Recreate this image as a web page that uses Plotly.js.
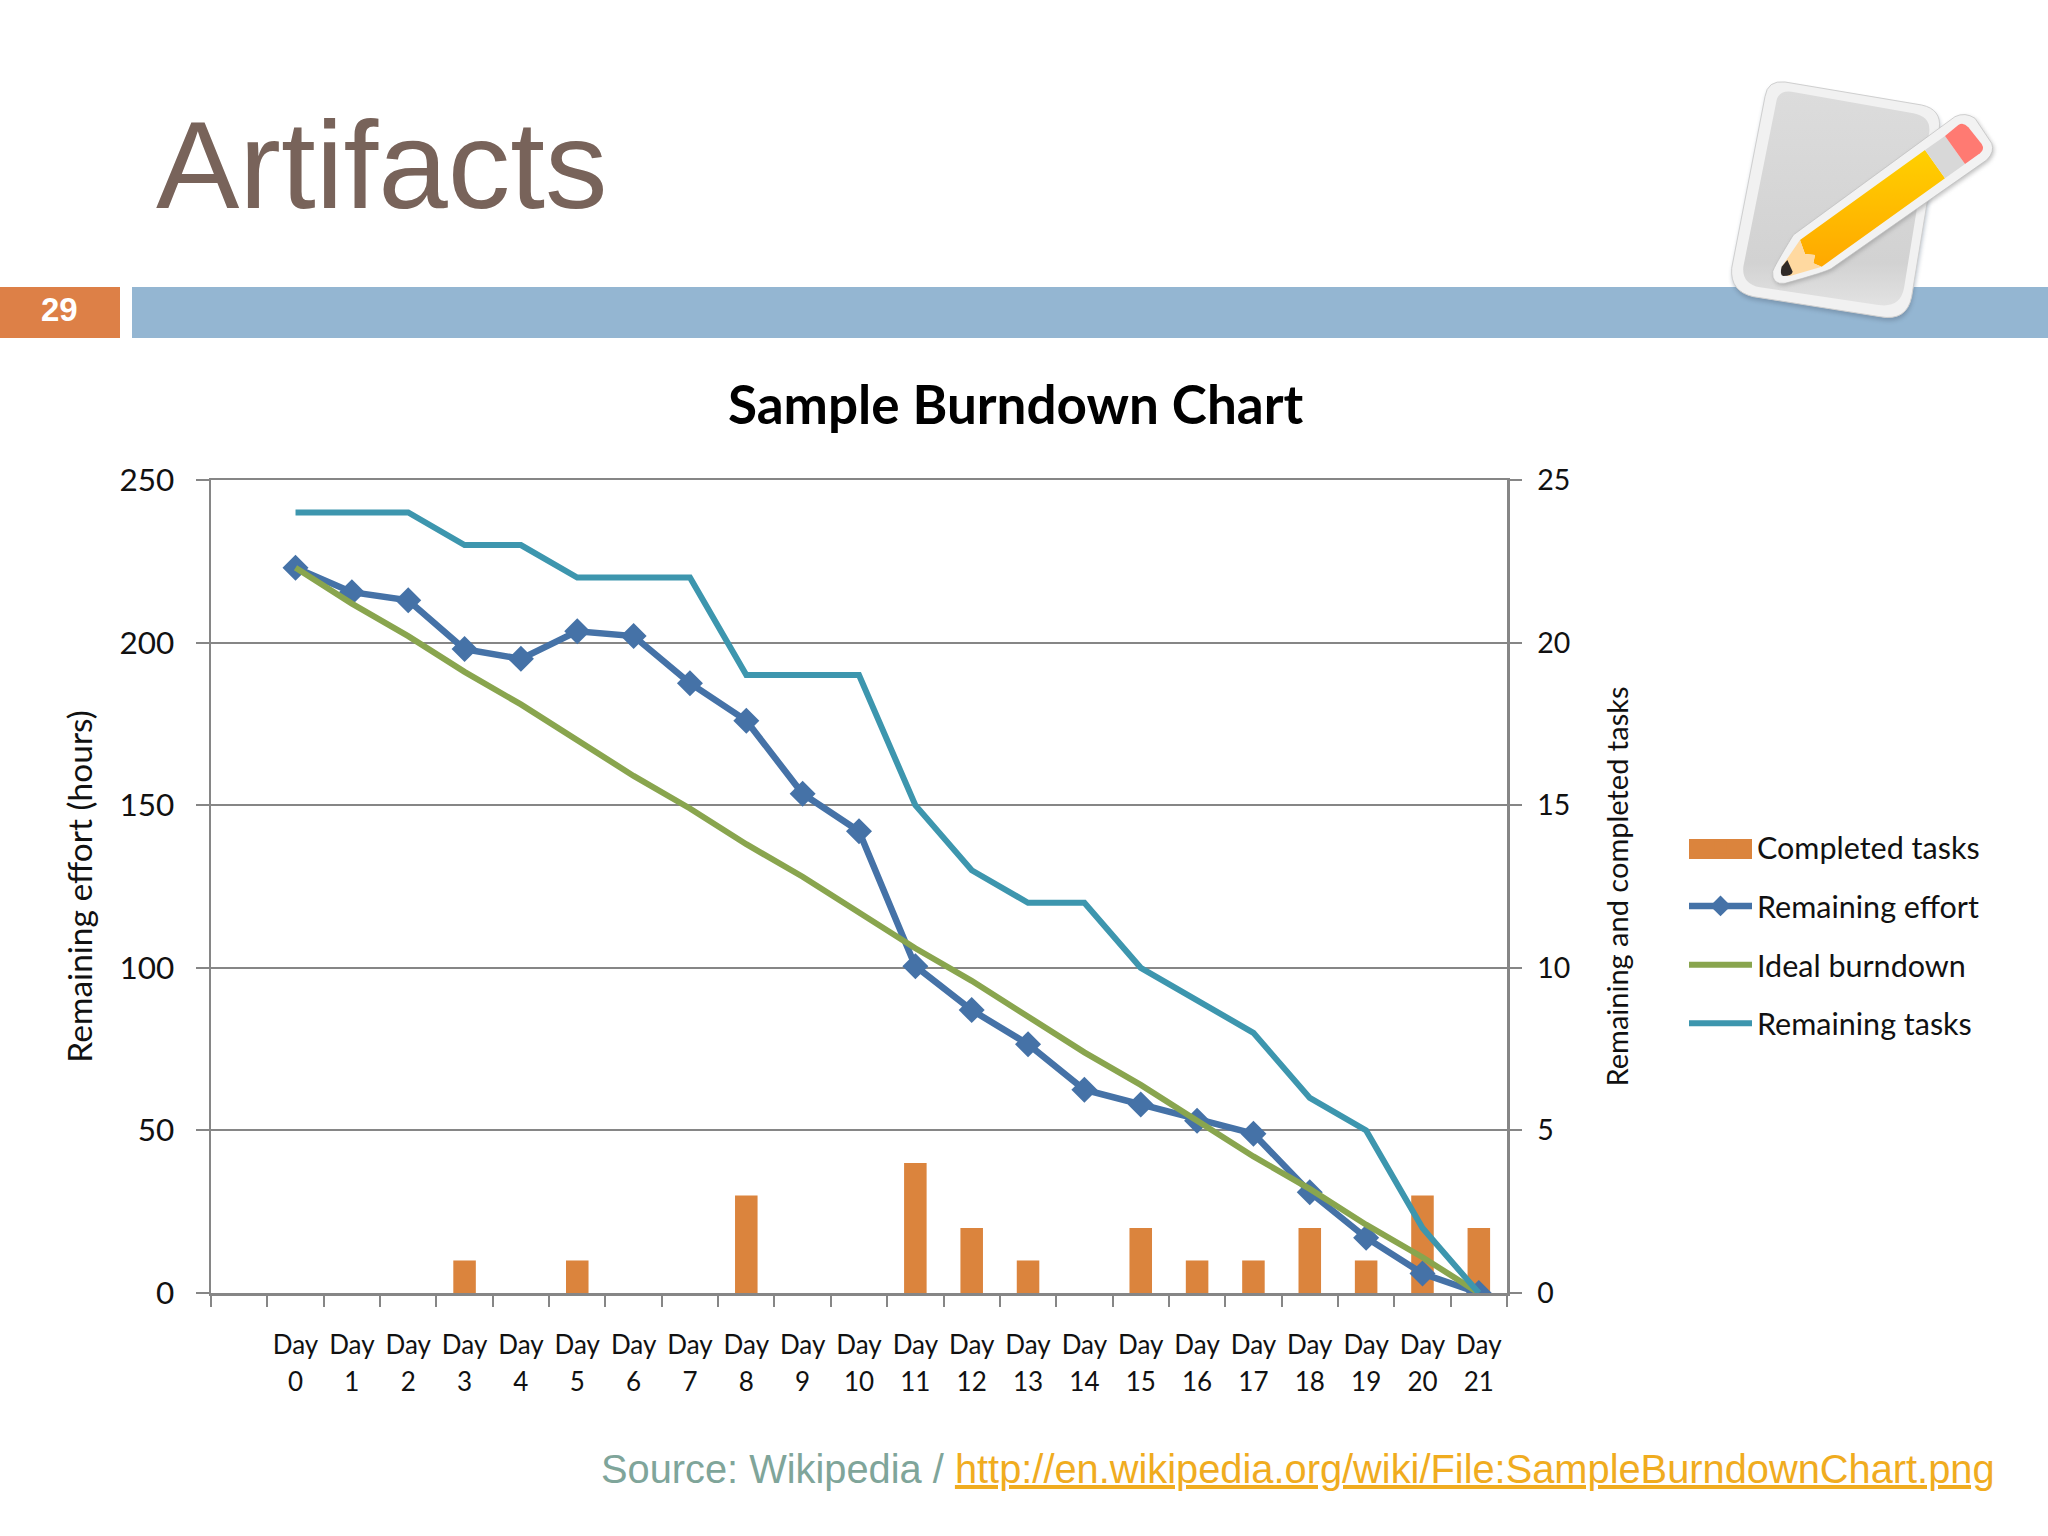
<!DOCTYPE html>
<html><head><meta charset="utf-8">
<script src="https://cdn.plot.ly/plotly-3.0.1.min.js"></script>
<style>html,body{margin:0;padding:0;background:#fff}</style>
</head><body><div id="chart" style="width:2048px;height:1536px"></div>
<script>
const dayCategories = [" ","Day 0","Day 1","Day 2","Day 3","Day 4","Day 5","Day 6","Day 7","Day 8","Day 9","Day 10","Day 11","Day 12","Day 13","Day 14","Day 15","Day 16","Day 17","Day 18","Day 19","Day 20","Day 21"];
const days = dayCategories.slice(1);
const completedTasks = [0,0,0,1,0,1,0,0,3,0,0,4,2,1,0,2,1,1,2,1,3,2];
const remainingEffort = [223,215.5,213,198,195,203.5,202,187.5,176,153.5,142,100.5,87,76.5,62.5,58,53,49,31,17,6,0];
const idealBurndown = [223,212,202,191,181,170,159,149,138,128,117,106,96,85,74,64,53,42,32,21,11,0];
const remainingTasks = [24,24,24,23,23,22,22,22,19,19,19,15,13,12,12,10,9,8,6,5,2,0];
const leftTicks = [0,50,100,150,200,250];
const rightTicks = [0,5,10,15,20,25];

const L=211,R=1507,T=480,B=1293,W=2048,H=1536;
const C = {bar:"#DB843D",effort:"#4572A7",ideal:"#89A54E",tasks:"#3D96AE",axis:"#868686"};
const px = x=>(x-L)/(R-L), py = y=>(B-y)/(B-T);
const F = "Lato, 'Open Sans', sans-serif", A = "'Liberation Sans', Arial, sans-serif";

const icon = `<svg xmlns="http://www.w3.org/2000/svg" width="1194" height="900" viewBox="0 0 1194 900">
<defs>
<linearGradient id="g" x1="0" y1="0" x2="0" y2="1"><stop offset="0" stop-color="#ffd000"/><stop offset="1" stop-color="#ffa800"/></linearGradient>
<linearGradient id="p" x1="0" y1="0" x2="0" y2="1"><stop offset="0" stop-color="#dcdcdc"/><stop offset=".8" stop-color="#d2d2d2"/><stop offset="1" stop-color="#e2e2e2"/></linearGradient>
<filter id="s" x="-20%" y="-20%" width="140%" height="140%"><feGaussianBlur stdDeviation="7"/></filter>
</defs>
<path d="M345 140Q352 90 405 96L815 165Q875 178 868 235L785 740Q770 815 690 800L310 740Q240 725 245 655Z" fill="#5b6f86" opacity=".45" filter="url(#s)" transform="translate(2,10)"/>
<path d="M345 140Q352 90 405 96L815 165Q875 178 868 235L785 740Q770 815 690 800L310 740Q240 725 245 655Z" fill="#f1f1f1" stroke="#cfcfcf" stroke-width="3"/>
<path d="M378 160Q382 120 425 125L790 190Q842 200 838 245L762 715Q750 775 685 765L330 712Q275 702 280 650Z" fill="url(#p)"/>
<path d="M368 665Q372 650 430 555L915 200Q945 185 975 205L1025 280Q1035 305 1010 330L545 655Q530 665 405 700Q365 705 368 665Z" fill="#8a8a8a" opacity=".55" filter="url(#s)" transform="translate(4,6)"/>
<path d="M368 665Q372 650 430 555L915 200Q945 185 975 205L1025 280Q1035 305 1010 330L545 655Q530 665 405 700Q365 705 368 665Z" fill="#f2f2f2" stroke="#bdbdbd" stroke-width="2"/>
<path d="M825 300L885 385L515 650L490 640L495 615L465 612L450 570Z" fill="url(#g)"/>
<path d="M450 570L465 612L495 615L490 640L515 650L420 678Q395 680 395 650Z" fill="#ffd9a0"/>
<path d="M412 630L428 665Q425 678 400 678Q388 675 395 650Z" fill="#2f2a28"/>
<path d="M825 300L885 258L945 342L885 385Z" fill="#d8d8d8"/>
<path d="M885 258L925 225Q940 215 955 232L995 282Q1005 298 990 310L945 342Z" fill="#ff7a72"/>
</svg>`;

const effortMarker = {symbol:"diamond",size:20,color:C.effort};
const traces = [
 {type:"bar",name:"Completed tasks",x:days,y:completedTasks,yaxis:"y2",width:0.4,marker:{color:C.bar},legendgroup:"a"},
 {type:"scatter",mode:"lines+markers",name:"Remaining effort",x:days,y:remainingEffort,yaxis:"y",line:{color:C.effort,width:6.5},marker:effortMarker,legendgroup:"b"},
 {type:"scatter",mode:"lines",name:"Ideal burndown",x:days,y:idealBurndown,yaxis:"y",line:{color:C.ideal,width:6},legendgroup:"c"},
 {type:"scatter",mode:"lines",name:"Remaining tasks",x:days,y:remainingTasks,yaxis:"y3",line:{color:C.tasks,width:6},legendgroup:"d"}
];
const span = (s)=>`<span style="font-size:26px">${s}</span>`;
const layout = {
 width:W,height:H,margin:{l:L,r:W-R,t:T,b:H-B,pad:0},
 paper_bgcolor:"#fff",plot_bgcolor:"rgba(0,0,0,0)",showlegend:true,hovermode:false,
 font:{family:F,color:"#111"},
 xaxis:{type:"category",categoryorder:"array",categoryarray:dayCategories,range:[-0.5,22.5],anchor:"y2",
   tickmode:"array",tickvals:dayCategories,ticktext:dayCategories.map(d=>{const p=d.trim().split(" ");return p.length<2?" ":span(p[0])+"<br>"+span(p[1]);}),
   tickson:"boundaries",tickangle:0,ticks:"outside",ticklen:11,tickwidth:2,tickcolor:C.axis,showline:true,mirror:true,linecolor:C.axis,linewidth:2.5,showgrid:false,zeroline:false,ticklabelstandoff:24,
   tickfont:{family:F,size:28.5,color:"#111"}},
 yaxis2:{range:[0,25],side:"right",tickvals:rightTicks,ticks:"outside",ticklen:12,tickwidth:2,tickcolor:C.axis,showline:true,linecolor:C.axis,linewidth:2.5,ticklabelstandoff:10,
   showgrid:true,gridcolor:C.axis,gridwidth:2,zeroline:false,tickfont:{family:F,size:28.5,color:"#111"},
   title:{text:"Remaining and completed tasks",font:{family:F,size:29,color:"#111"},standoff:39}},
 yaxis:{range:[0,250],overlaying:"y2",side:"left",tickvals:leftTicks,ticks:"outside",ticklen:13,tickwidth:2,tickcolor:C.axis,showline:true,linecolor:C.axis,linewidth:2.5,ticklabelstandoff:15,
   showgrid:false,zeroline:false,tickfont:{family:F,size:31.5,color:"#111"},
   title:{text:"Remaining effort (hours)",font:{family:F,size:33.5,color:"#111"},standoff:17}},
 yaxis3:{range:[0,25],overlaying:"y2",side:"right",visible:false},
 legend:{x:px(1684),xanchor:"left",y:py(821),yanchor:"top",font:{family:F,size:30.5,color:"#111"},itemwidth:63,traceorder:"grouped",tracegroupgap:16,bgcolor:"rgba(0,0,0,0)",itemclick:false,itemdoubleclick:false},
 shapes:[
  {type:"rect",xref:"paper",yref:"paper",x0:px(0),x1:px(120),y0:py(287),y1:py(338),fillcolor:"#DD8047",line:{width:0},layer:"below"},
  {type:"rect",xref:"paper",yref:"paper",x0:px(132),x1:px(2048),y0:py(287),y1:py(338),fillcolor:"#94B6D2",line:{width:0},layer:"below"},
  {type:"rect",xref:"paper",yref:"paper",x0:px(1689),x1:px(1752),y0:py(839),y1:py(859),fillcolor:C.bar,line:{width:0},layer:"above"}
 ],
 images:[{source:"data:image/svg+xml;base64,"+btoa(icon),xref:"paper",yref:"paper",x:px(1650),y:py(50),sizex:398/(R-L),sizey:300/(B-T),xanchor:"left",yanchor:"top",sizing:"stretch",layer:"above"}],
 annotations:[
  {text:"Artifacts",xref:"paper",yref:"paper",x:px(154),y:py(165),xanchor:"left",yanchor:"middle",showarrow:false,font:{family:A,size:125,color:"#78635A"}},
  {text:"<b>29</b>",xref:"paper",yref:"paper",x:px(59),y:py(310),xanchor:"center",yanchor:"middle",showarrow:false,font:{family:A,size:33,color:"#fff"}},
  {text:"<b>Sample Burndown Chart</b>",xref:"paper",yref:"paper",x:px(1015),y:py(404),xanchor:"center",yanchor:"middle",showarrow:false,font:{family:F,size:53,color:"#000"}},
  {text:'<span style="color:#7FA59A">Source: Wikipedia / </span><u>http://en.wikipedia.org/wiki/File:SampleBurndownChart.png</u>',xref:"paper",yref:"paper",x:px(1997),y:py(1469),xanchor:"right",yanchor:"middle",showarrow:false,font:{family:A,size:39.8,color:"#F0AC1F"}}
 ]
};
Plotly.newPlot("chart",traces,layout,{displayModeBar:false,staticPlot:true});
</script></body></html>
